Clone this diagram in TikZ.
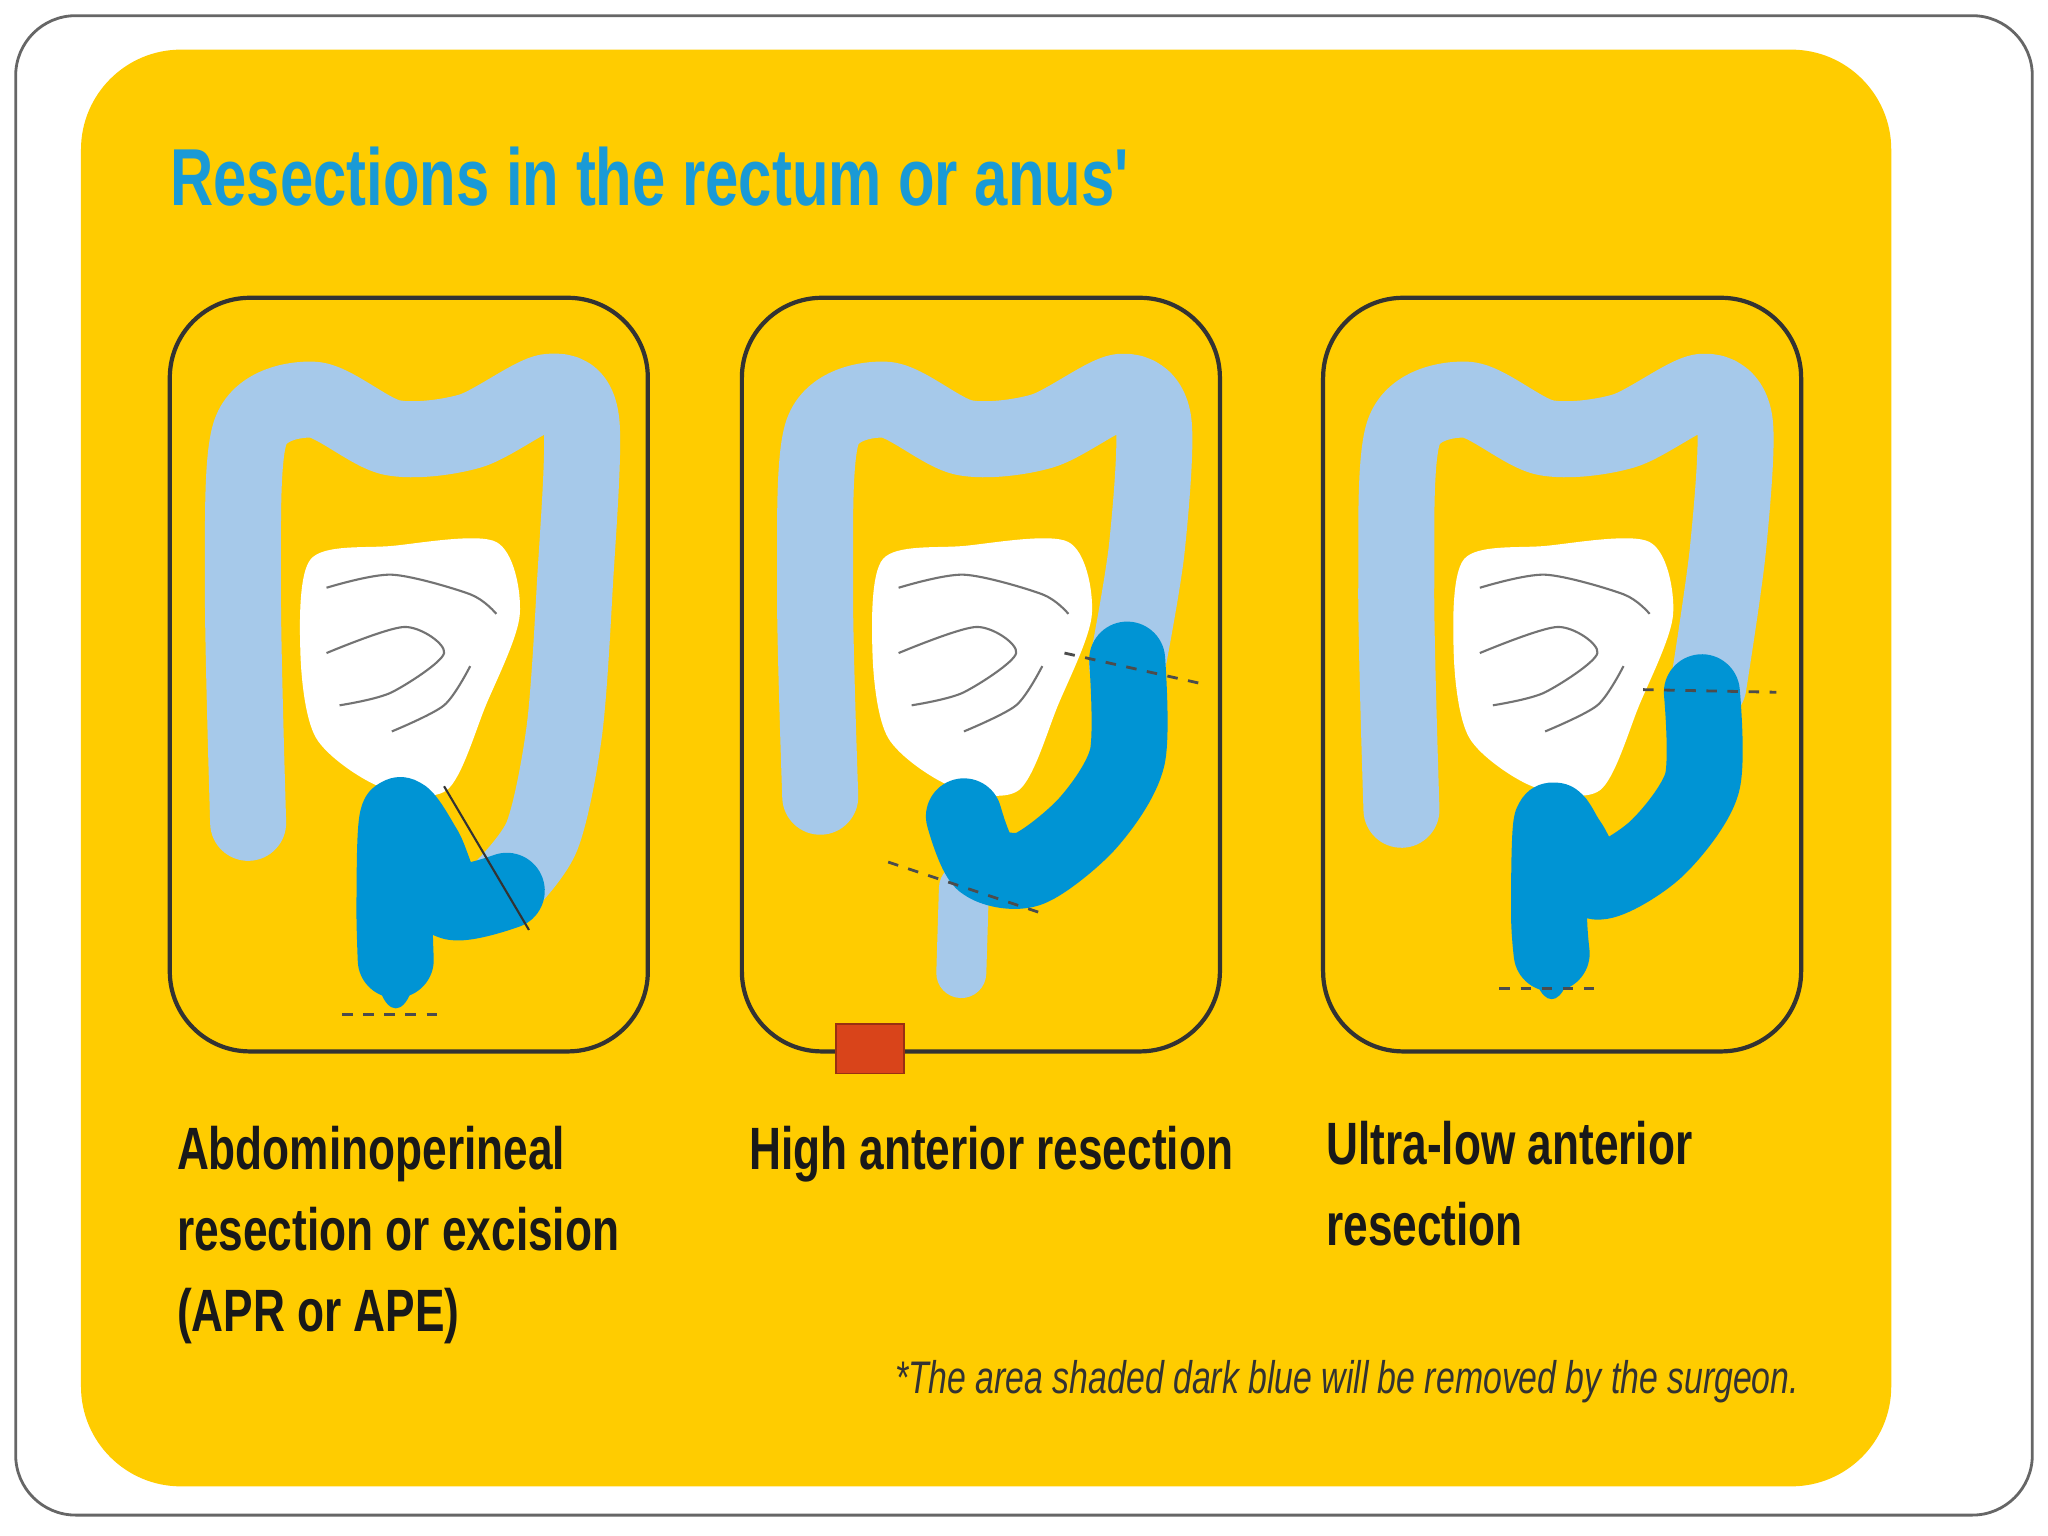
\documentclass[tikz,border=0pt]{standalone}
\usepackage{fontspec}
\setmainfont{Liberation Sans}
\newfontfamily\condfont[FakeStretch=0.74]{Liberation Sans}
\definecolor{ylw}{HTML}{FFCC00}
\definecolor{lblue}{HTML}{A6C9EA}
\definecolor{dblue}{HTML}{0094D4}
\definecolor{ttl}{HTML}{1A9AD6}
\definecolor{rsq}{HTML}{D9441A}
\begin{document}
\begin{tikzpicture}[x=0.01306cm,y=-0.01306cm,
  panel/.style={draw=black!80,line width=1.2pt,rounded corners=0.8cm},
  lcol/.style={draw=lblue,line width=0.76cm,line cap=round,line join=round},
  dcol/.style={draw=dblue,line width=0.76cm,line cap=round,line join=round},
  coil/.style={draw=black!55,line width=0.6pt},
  cut/.style={draw=black!70,dashed,line width=0.8pt},
  lab/.style={anchor=north west,align=left,font=\condfont\bfseries\fontsize{17}{23}\selectfont,text=black!90,inner sep=0pt}]
\useasboundingbox (0,0) rectangle (1568,1176);
\draw[black!60,fill=white,line width=0.8pt,rounded corners=0.6cm] (12,12) rectangle (1556,1160);
\fill[ylw,rounded corners=1cm] (62,38) rectangle (1448,1138);
\node[anchor=west,inner sep=0pt,text=ttl,font=\condfont\bfseries\fontsize{23}{28}\selectfont] (title) at (130,135) {Resections in the rectum or anus'};
% panels
\foreach \dx/\nm in {0/p1,438/p2,883/p3}{
  \draw[panel] (130+\dx,228) rectangle (496+\dx,805);
  \begin{scope}[xshift=\dx*0.01306cm]
  \fill[white] plot[smooth cycle] coordinates {(238,428)(300,418)(380,415)(398,470)(372,540)(342,605)(290,602)(242,565)(230,500)};
  \draw[coil] plot[smooth] coordinates {(250,450)(300,440)(360,455)(380,470)};
  \draw[coil] plot[smooth] coordinates {(250,500)(310,480)(340,500)(300,530)(260,540)};
  \draw[coil] plot[smooth] coordinates {(300,560)(340,540)(360,510)};
  \end{scope}
}
% panel 1
\draw[lcol] plot[smooth] coordinates {(190,630)(186,450)(192,330)(240,306)(300,335)(360,330)(420,300)(445,322)(440,450)(432,560)(415,640)(385,680)};
\draw[dcol] plot[smooth] coordinates {(388,682)(345,690)(325,650)(305,625)(302,690)(303,735)};
\fill[dblue] (303,732) ellipse (16 and 40);
\draw[cut] (262,777) -- (340,777);
\draw[black!80,line width=0.6pt] (340,602) -- (405,712);
% panel 2
\begin{scope}[xshift=438*0.01306cm]
\draw[lcol,line width=0.5cm] (300,680) -- (298,745);
\fill[lblue] (298,740) ellipse (12 and 22);
\draw[lcol] plot[smooth] coordinates {(190,610)(186,450)(192,330)(240,306)(300,335)(360,330)(420,300)(445,322)(440,420)(425,510)};
\draw[dcol] plot[smooth] coordinates {(425,505)(425,580)(395,630)(350,665)(315,660)(300,625)};
\draw[cut] (377,500) -- (480,523);
\draw[cut] (242,660) -- (362,700);
\end{scope}
\node[draw=rsq!70!black,fill=rsq,minimum width=52*0.01306cm,minimum height=38*0.01306cm,inner sep=0pt] (red) at (666,803) {};
% panel 3
\begin{scope}[xshift=883*0.01306cm]
\draw[lcol] plot[smooth] coordinates {(190,620)(186,450)(192,330)(240,306)(300,335)(360,330)(420,300)(445,322)(440,420)(425,525)};
\draw[dcol] plot[smooth] coordinates {(420,530)(420,600)(385,650)(340,675)(318,645)(305,630)(303,700)(305,730)};
\fill[dblue] (305,730) ellipse (15 and 35);
\draw[cut] (375,528) -- (477,530);
\draw[cut] (265,757) -- (345,757);
\end{scope}
% labels
\node[lab] (l1) at (135,862) {Abdominoperineal\\resection or excision\\(APR or APE)};
\node[lab] (l2) at (573,862) {High anterior resection};
\node[lab] (l3) at (1015,858) {Ultra-low anterior\\resection};
\node[anchor=east,inner sep=0pt,font=\condfont\itshape\fontsize{13}{16}\selectfont,text=black!80] (fn) at (1378,1058) {*The area shaded dark blue will be removed by the surgeon.};
\end{tikzpicture}
\end{document}
